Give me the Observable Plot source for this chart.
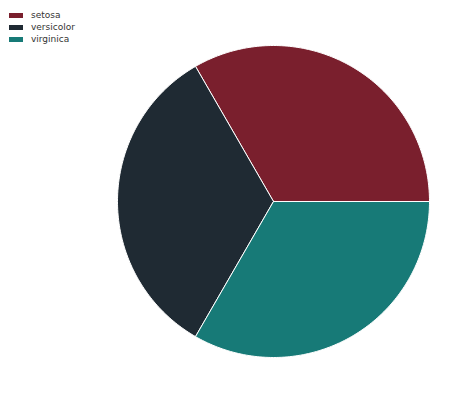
<!DOCTYPE html>
<html>
<head>
<meta charset="utf-8">
<script src="https://cdn.jsdelivr.net/npm/d3@7"></script>
<script src="https://cdn.jsdelivr.net/npm/@observablehq/plot@0.6"></script>
<style>
  html, body { margin: 0; padding: 0; background: #fff; }
  #wrap { position: relative; width: 474px; height: 402px; }
  #legend { position: absolute; left: 9px; top: 9px; font-family: "DejaVu Sans", sans-serif; font-size: 9px; color: #333; }
  .row { display: flex; align-items: center; height: 12px; }
  .sw { width: 14px; height: 5px; margin-right: 8px; }
</style>
</head>
<body>
<div id="wrap">
  <div id="chart"></div>
  <div id="legend"></div>
</div>
<script>
const species = ["setosa", "versicolor", "virginica"];
const counts = [50, 50, 50];
const colors = ["#7a1f2d", "#1f2a33", "#177a77"];

const total = d3.sum(counts);
const points = [];
let start = 0;
species.forEach((s, i) => {
  const sweep = counts[i] / total * 2 * Math.PI;
  points.push({species: s, x: 0, y: 0});
  const n = Math.max(2, Math.ceil(sweep / (Math.PI / 180)));
  for (let k = 0; k <= n; k++) {
    const a = start + sweep * k / n;
    points.push({species: s, x: Math.cos(a), y: Math.sin(a)});
  }
  points.push({species: s, x: 0, y: 0});
  start += sweep;
});

const chart = Plot.plot({
  width: 474,
  height: 402,
  margin: 0,
  x: {domain: [-1, 1], range: [117, 429], axis: null},
  y: {domain: [-1, 1], range: [357, 45], axis: null},
  color: {domain: species, range: colors},
  marks: [
    Plot.line(points, {x: "x", y: "y", z: "species", fill: "species", stroke: "white", strokeWidth: 1, curve: "linear-closed"})
  ]
});
document.getElementById("chart").appendChild(chart);

const legend = document.getElementById("legend");
species.forEach((s, i) => {
  const row = document.createElement("div");
  row.className = "row";
  const sw = document.createElement("div");
  sw.className = "sw";
  sw.style.background = colors[i];
  const t = document.createElement("span");
  t.textContent = s;
  row.appendChild(sw);
  row.appendChild(t);
  legend.appendChild(row);
});
</script>
</body>
</html>
